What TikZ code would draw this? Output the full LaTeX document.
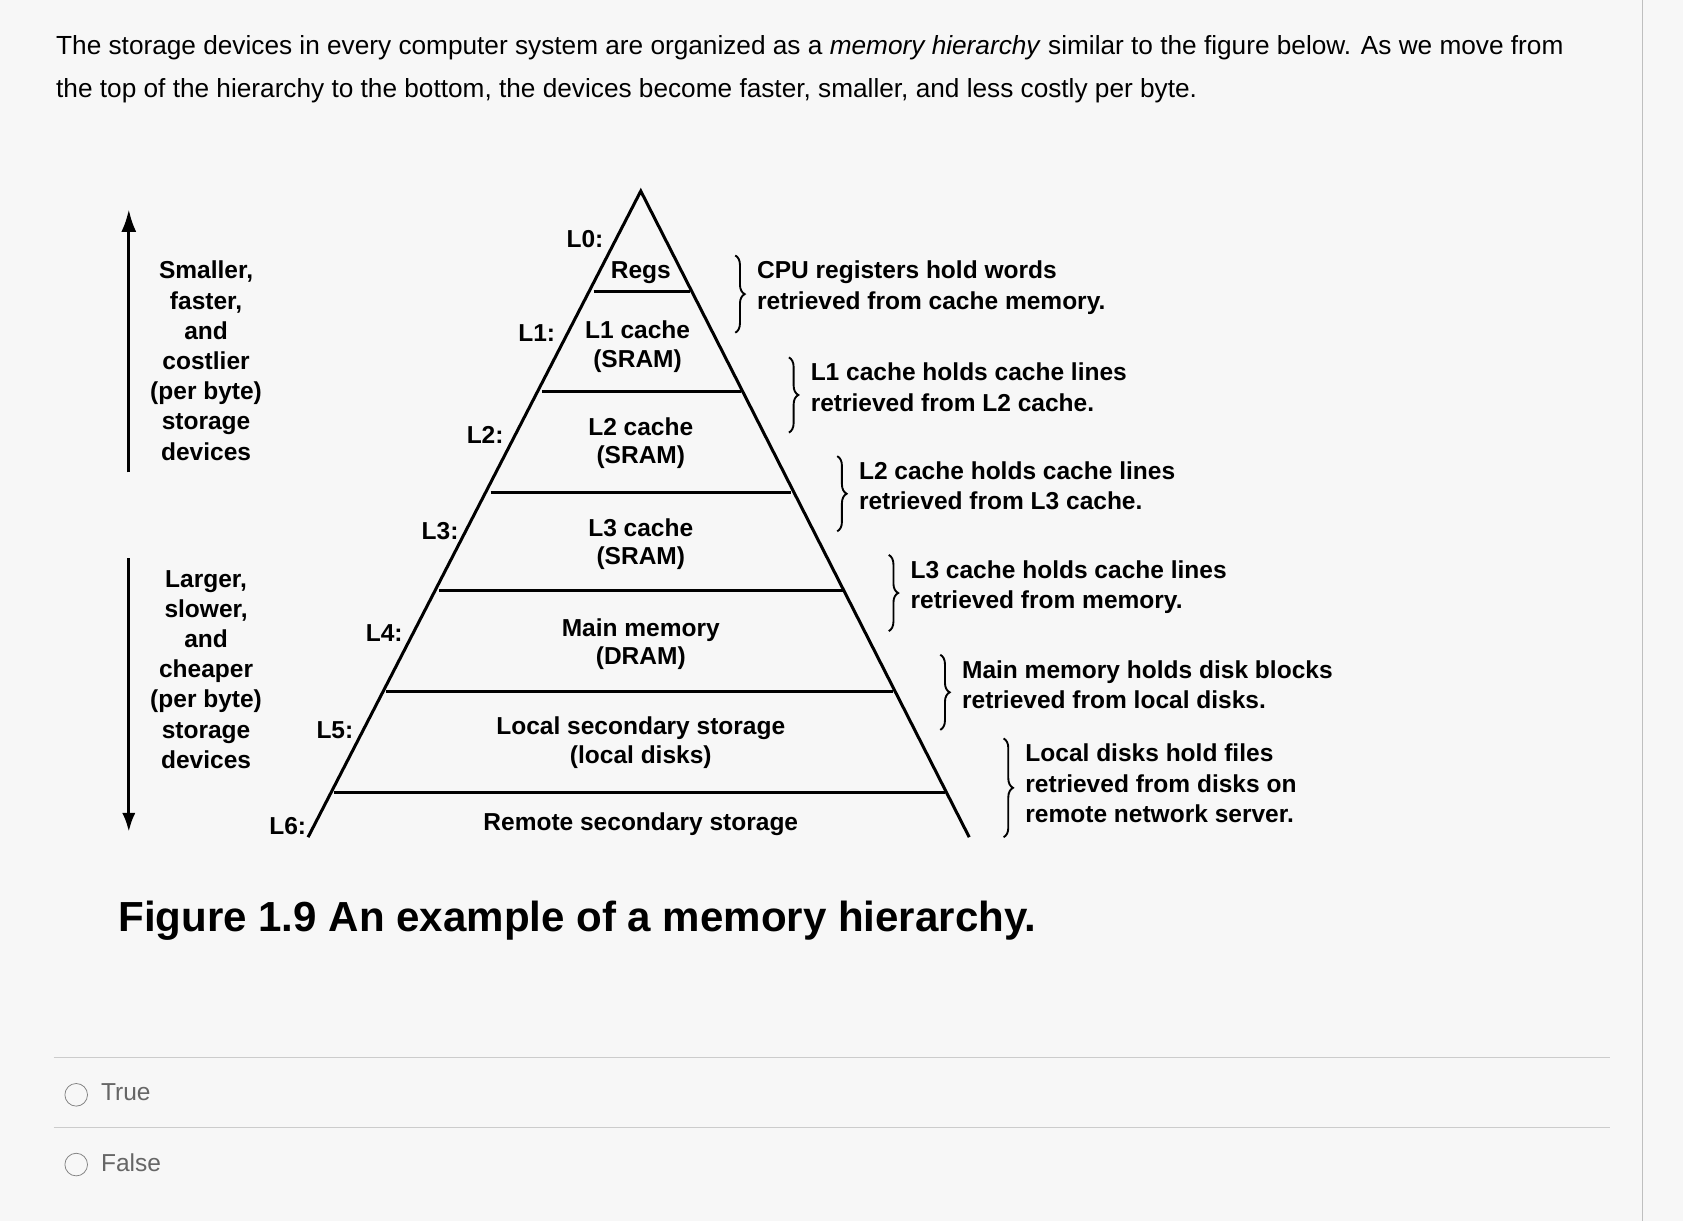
\documentclass[tikz,border=0pt]{standalone}
\usepackage{fontspec}
\setmainfont{Liberation Sans}
\usetikzlibrary{decorations.pathreplacing,arrows.meta}
\begin{document}
\begin{tikzpicture}[x=0.02cm,y=-0.02cm,
  lbl/.style={font=\fontsize{13}{15}\selectfont\bfseries},
  desc/.style={font=\fontsize{13}{16}\selectfont\bfseries,anchor=north west,align=left,inner sep=0},
  side/.style={font=\fontsize{13}{16}\selectfont\bfseries,align=center,inner sep=0},
  brc/.style={decorate,decoration={brace,amplitude=5pt},line width=1pt},
  body/.style={font=\fontsize{13.9}{22.6}\selectfont,anchor=north west,align=left,inner sep=0}]
\fill[gray!6] (0,0) rectangle (1568,1138);
\useasboundingbox (0,0) rectangle (1568,1138);
\draw[gray!50] (1530,0) -- (1530,1138);
\node[body] (hdr) at (52,33) {The storage devices in every computer system are organized as a \textit{memory hierarchy} similar to the figure below. As we move from\\the top of the hierarchy to the bottom, the devices become faster, smaller, and less costly per byte.};
% pyramid
\coordinate (A) at (597,178);
\coordinate (BL) at (287,780);
\coordinate (BR) at (903,780);
\draw[line width=1.6pt] (BL) -- (A) -- (BR);
\foreach \y/\l/\r in {272/553/643,365/505/690,459/457/737,550/409/785,644/360/832,738/311/880}
  \draw[line width=1.6pt] (\l,\y) -- (\r,\y);
\node[lbl] (l0) at (545,223) {L0:};
\node[lbl] (regs) at (597,254) {Regs};
\node[lbl] (l1) at (500,310) {L1:};
\node[lbl,align=center] (c1) at (594,323) {L1 cache\\(SRAM)};
\node[lbl] (l2) at (452,405) {L2:};
\node[lbl,align=center] (c2) at (597,413) {L2 cache\\(SRAM)};
\node[lbl] (l3) at (410,495) {L3:};
\node[lbl,align=center] (c3) at (597,507) {L3 cache\\(SRAM)};
\node[lbl] (l4) at (358,590) {L4:};
\node[lbl,align=center] (mm) at (597,600) {Main memory\\(DRAM)};
\node[lbl] (l5) at (312,680) {L5:};
\node[lbl,align=center] (ls) at (597,692) {Local secondary storage\\(local disks)};
\node[lbl] (l6) at (268,770) {L6:};
\node[lbl] (rs) at (597,768) {Remote secondary storage};
% braces
\foreach \x/\a/\b/\t [count=\i] in {
 685/238/310/{CPU registers hold words\\retrieved from cache memory.},
 735/333/403/{L1 cache holds cache lines\\retrieved from L2 cache.},
 780/425/495/{L2 cache holds cache lines\\retrieved from L3 cache.},
 828/517/588/{L3 cache holds cache lines\\retrieved from memory.},
 876/610/680/{Main memory holds disk blocks\\retrieved from local disks.},
 935/688/780/{Local disks hold files\\retrieved from disks on\\remote network server.}}{
  \draw[brc] (\x,\a) -- (\x,\b);
  \node[desc] (d\i) at (\x+20,\a+5) {\t};
}
% left arrow
\coordinate (at) at (120,195);
\coordinate (am) at (120,440);
\coordinate (bm) at (120,520);
\coordinate (ab) at (120,775);
\draw[line width=1.6pt,-{Latex[length=12pt,width=8pt]}] (am) -- (at);
\draw[line width=1.6pt,-{Latex[length=10pt,width=7pt]}] (bm) -- (ab);
\node[side,anchor=north] (s1) at (192,243) {Smaller,\\faster,\\and\\costlier\\(per byte)\\storage\\devices};
\node[side,anchor=north] (s2) at (192,531) {Larger,\\slower,\\and\\cheaper\\(per byte)\\storage\\devices};
\node[anchor=west,inner sep=0,font=\fontsize{22.3}{26}\selectfont\bfseries] (cap) at (110,858) {Figure 1.9 An example of a memory hierarchy.};
\draw[gray!40] (50,985) -- (1500,985);
\draw[gray!40] (50,1050) -- (1500,1050);
\node[draw=gray,circle,minimum size=12pt,inner sep=0] (r1) at (71,1020) {};
\node[anchor=west,font=\fontsize{13}{15}\selectfont,text=gray!80!black] (t1) at (88,1018) {True};
\node[draw=gray,circle,minimum size=12pt,inner sep=0] (r2) at (71,1085) {};
\node[anchor=west,font=\fontsize{13}{15}\selectfont,text=gray!80!black] (t2) at (88,1083) {False};
\end{tikzpicture}
\end{document}
